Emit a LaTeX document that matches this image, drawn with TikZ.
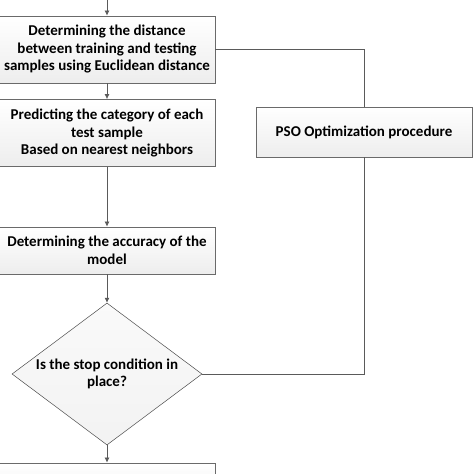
\documentclass[tikz,border=0pt]{standalone}
\usepackage{fontspec}
\setmainfont{Carlito}
\usetikzlibrary{shapes.geometric,arrows.meta,shadows}
\definecolor{edgegray}{HTML}{6A6A6A}
\definecolor{linegray}{HTML}{5A5A5A}
\tikzset{
  boxstyle/.style={draw=edgegray, line width=0.9pt, top color=white, bottom color=black!7,
    rectangle, align=center, font=\fontsize{15}{17.5}\selectfont\bfseries,
    drop shadow={shadow xshift=0.8pt, shadow yshift=-0.8pt, opacity=0.2}, inner sep=0pt},
  decision/.style={draw=black!70, line width=0.5pt, top color=black!2, bottom color=black!5,
    diamond, aspect=1.35, align=center, font=\fontsize{15}{17.5}\selectfont\bfseries, inner sep=0pt},
  conn/.style={draw=linegray, line width=0.7pt},
  arr/.style={conn, -{Latex[length=5pt,width=5pt]}},
}
\begin{document}
\begin{tikzpicture}[x=1pt,y=-1pt]
\useasboundingbox (0,0) rectangle (474,474);
\coordinate (top) at (107,0);
\node[boxstyle, minimum width=216pt, minimum height=67pt] (b1) at (107,49.5)
  {Determining the distance\\between training and testing\\samples using Euclidean distance};
\node[boxstyle, minimum width=216pt, minimum height=67pt] (b2) at (107,133)
  {Predicting the category of each\\test sample\\Based on nearest neighbors};
\node[boxstyle, minimum width=216pt, minimum height=47pt] (b3) at (107,250.5)
  {Determining the accuracy of the\\model};
\node[decision, minimum width=190pt, minimum height=142pt] (d) at (107,374)
  {Is the stop condition in\\place?};
\node[boxstyle, minimum width=216pt, minimum height=40pt] (b4) at (107,483) {};
\node[boxstyle, minimum width=216pt, minimum height=50pt] (pso) at (364,132)
  {PSO Optimization procedure};
\draw[arr] (top) -- (b1.north);
\draw[arr] (b1.south) -- (b2.north);
\draw[arr] (b2.south) -- (b3.north);
\draw[arr] (b3.south) -- (d.north);
\draw[arr] (d.south) -- (b4.north);
\draw[conn] (b1.east) -| (pso.north);
\draw[conn] (pso.south) |- (d.east);
\end{tikzpicture}
\end{document}
